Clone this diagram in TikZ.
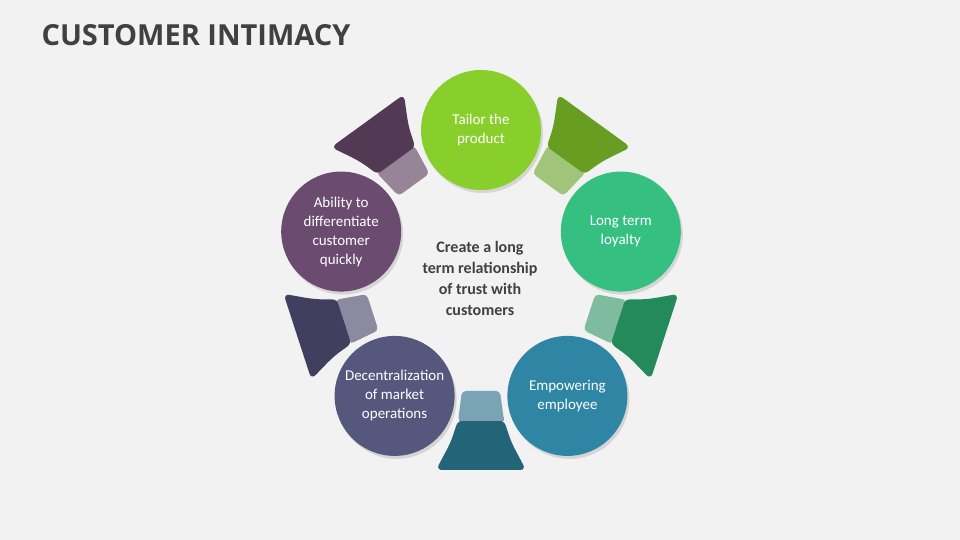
\documentclass[tikz,border=0pt]{standalone}
\usepackage{fontspec}
\setmainfont{Carlito}
\newfontfamily\titlefont{Open Sans}
\usetikzlibrary{shadows}
\definecolor{bg}{HTML}{F2F2F2}
\definecolor{txt}{HTML}{404040}
\definecolor{cA}{HTML}{88CF2B}\definecolor{dA}{HTML}{679E22}\definecolor{lA}{HTML}{A0C47A}
\definecolor{cB}{HTML}{35BF80}\definecolor{dB}{HTML}{248A5A}\definecolor{lB}{HTML}{7FBB9F}
\definecolor{cC}{HTML}{2E86A4}\definecolor{dC}{HTML}{236478}\definecolor{lC}{HTML}{7AA4B3}
\definecolor{cD}{HTML}{56577D}\definecolor{dD}{HTML}{40405E}\definecolor{lD}{HTML}{8B8AA0}
\definecolor{cE}{HTML}{6C4B70}\definecolor{dE}{HTML}{523A55}\definecolor{lE}{HTML}{958597}
\begin{document}
\begin{tikzpicture}[x=1pt,y=1pt,
  circ/.style={circle,minimum size=120pt,inner sep=0pt,align=center,text=white,
    font=\fontsize{15}{19}\selectfont, drop shadow={shadow xshift=2pt,shadow yshift=-3pt,opacity=0.25}},
  ctext/.style={align=center,text=txt,font=\bfseries\fontsize{16}{21}\selectfont}]
\fill[bg] (0,0) rectangle (960,540);
\useasboundingbox (0,0) rectangle (960,540);
\node[anchor=west,text=txt,font=\titlefont\bfseries\fontsize{29}{34}\selectfont] (title) at (38,505) {CUSTOMER INTIMACY};
\coordinate (O) at (481,263);
% megaphones
\foreach \a/\d/\l in {54/dA/lA,-18/dB/lB,-90/dC/lC,198/dD/lD,126/dE/lE}{
  \begin{scope}[shift={(O)},rotate=\a]
    \fill[\l,rounded corners=4pt] (114,-19) -- (144,-23) -- (144,23) -- (114,19) -- cycle;
    \fill[\d,rounded corners=6pt] (143,-23) .. controls (165,-30) .. (193,-45) -- (193,45) .. controls (165,30) .. (143,23) -- cycle;
    \fill[\l] (140,-22.5) rectangle (144,22.5);
  \end{scope}}
\node[circ,fill=cA] (n1) at ([shift={(90:147)}]O) {Tailor the\\product};
\node[circ,fill=cB] (n2) at ([shift={(18:147)}]O) {Long term\\loyalty};
\node[circ,fill=cC] (n3) at ([shift={(-54:147)}]O) {Empowering\\employee};
\node[circ,fill=cD] (n4) at ([shift={(234:147)}]O) {Decentralization\\of market\\operations};
\node[circ,fill=cE] (n5) at ([shift={(162:147)}]O) {Ability to\\differentiate\\customer\\quickly};
\node[ctext] (c) at (480,262) {Create a long\\term relationship\\of trust with\\customers};
\end{tikzpicture}
\end{document}
